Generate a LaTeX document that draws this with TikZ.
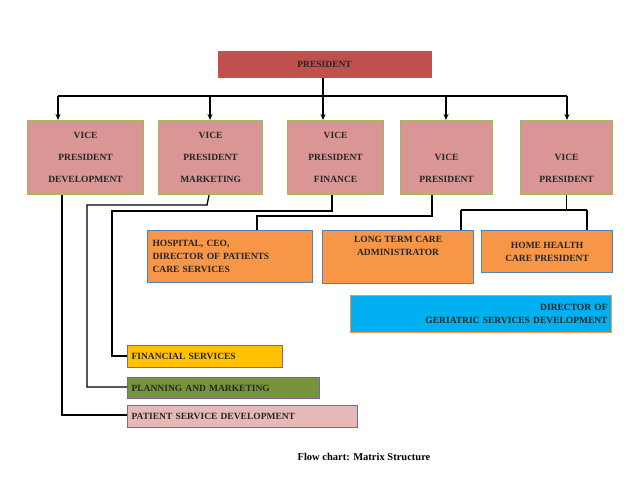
\documentclass[tikz,border=0pt]{standalone}
\usepackage{fontspec}
\setmainfont{Liberation Serif}
\usetikzlibrary{arrows.meta}
\definecolor{pres}{HTML}{C0504D}
\definecolor{vp}{HTML}{D99694}
\definecolor{vpb}{HTML}{9BBB59}
\definecolor{org}{HTML}{F79646}
\definecolor{blu}{HTML}{4F81BD}
\definecolor{cyn}{HTML}{00B0F0}
\definecolor{yel}{HTML}{FFC000}
\definecolor{grn}{HTML}{77933C}
\definecolor{pnk}{HTML}{E6B9B8}
\definecolor{pur}{HTML}{8064A2}
\begin{document}
\begin{tikzpicture}[x=1pt,y=-1pt,
 box/.style={draw,line width=1.2pt,inner sep=0pt,font=\bfseries\fontsize{9.5}{22}\selectfont,text=black!85},
 vpbox/.style={box,fill=vp,draw=vpb,align=center},
 lbox/.style={box,anchor=north west},
 con/.style={line width=1.3pt},
 arr/.style={con,-{Stealth[length=6pt,width=5pt]}}]
\useasboundingbox (0,0) rectangle (638,478);
\node[box,fill=pres,draw=none,minimum width=214pt,minimum height=27pt,anchor=north west] (p) at (217,50) {PRESIDENT};
\node[vpbox,anchor=north west,minimum width=116pt,minimum height=74pt] (v1) at (27,120) {VICE\\PRESIDENT\\DEVELOPMENT};
\node[vpbox,anchor=north west,minimum width=104pt,minimum height=74pt] (v2) at (158,120) {VICE\\PRESIDENT\\MARKETING};
\node[vpbox,anchor=north west,minimum width=96pt,minimum height=74pt] (v3) at (287,120) {VICE\\PRESIDENT\\FINANCE};
\node[vpbox,anchor=north west,minimum width=92pt,minimum height=74pt,text height=50pt] (v4) at (400,120) {VICE\\PRESIDENT};
\node[vpbox,anchor=north west,minimum width=92pt,minimum height=74pt,text height=50pt] (v5) at (520,120) {VICE\\PRESIDENT};
\node[box,fill=org,draw=blu,anchor=north west,minimum width=165pt,minimum height=52pt,align=left,text width=155pt,font=\bfseries\fontsize{9.5}{13}\selectfont] (h) at (147,230) {HOSPITAL, CEO,\\DIRECTOR OF PATIENTS\\CARE SERVICES};
\node[box,fill=org,draw=blu,anchor=north west,minimum width=151pt,minimum height=53pt,align=center,text depth=22pt,font=\bfseries\fontsize{9.5}{13}\selectfont] (l) at (322,230) {LONG TERM CARE\\ADMINISTRATOR};
\node[box,fill=org,draw=blu,anchor=north west,minimum width=131pt,minimum height=42pt,align=center,font=\bfseries\fontsize{9.5}{13}\selectfont] (hh) at (481,230) {HOME HEALTH\\CARE PRESIDENT};
\node[box,fill=cyn,draw=org,anchor=north west,minimum width=261pt,minimum height=37pt,align=right,text width=253pt,font=\bfseries\fontsize{9.5}{13}\selectfont] (g) at (350,295) {DIRECTOR OF\\GERIATRIC SERVICES DEVELOPMENT};
\node[lbox,fill=yel,draw=pur,minimum width=155pt,minimum height=22pt,text width=147pt] (f) at (127,345) {FINANCIAL SERVICES};
\node[lbox,fill=grn,draw=pur,minimum width=192pt,minimum height=21pt,text width=184pt] (pm) at (127,377) {PLANNING AND MARKETING};
\node[lbox,fill=pnk,draw=pur,minimum width=230pt,minimum height=22pt,text width=222pt] (ps) at (127,405) {PATIENT SERVICE DEVELOPMENT};
\node[font=\bfseries\fontsize{10.5}{12}\selectfont] (cap) at (364,457) {Flow chart: Matrix Structure};
% top bus
\coordinate (b) at (323,96);
\draw[arr] (p.south -| b) -- (b) -- (v3.north -| b);
\draw[con] (58,96) -- (567,96);
\draw[arr] (58,96) -- (58,120);
\draw[arr] (210,96) -- (210,120);
\draw[arr] (446,96) -- (446,120);
\draw[arr] (567,96) -- (567,120);
% left connectors
\draw[con] (v1.south -| 62,0) -- (62,415) -- (ps.west |- 0,415);
\draw[con] (v2.south -| 209,0) -- (207,205) -- (87,205) -- (87,387) -- (pm.west |- 0,387);
\draw[con] (v3.south -| 332,0) -- (332,211) -- (112,211) -- (112,356) -- (f.west |- 0,356);
\draw[con] (v4.south -| 432,0) -- (432,216) -- (257,216) -- (h.north -| 257,0);
\draw[con] (v5.south) -- (v5.south |- 0,210);
\draw[con] (461,210) -- (587,210);
\draw[con] (461,210) -- (l.north -| 461,0);
\draw[con] (587,210) -- (hh.north -| 587,0);
\end{tikzpicture}
\end{document}
